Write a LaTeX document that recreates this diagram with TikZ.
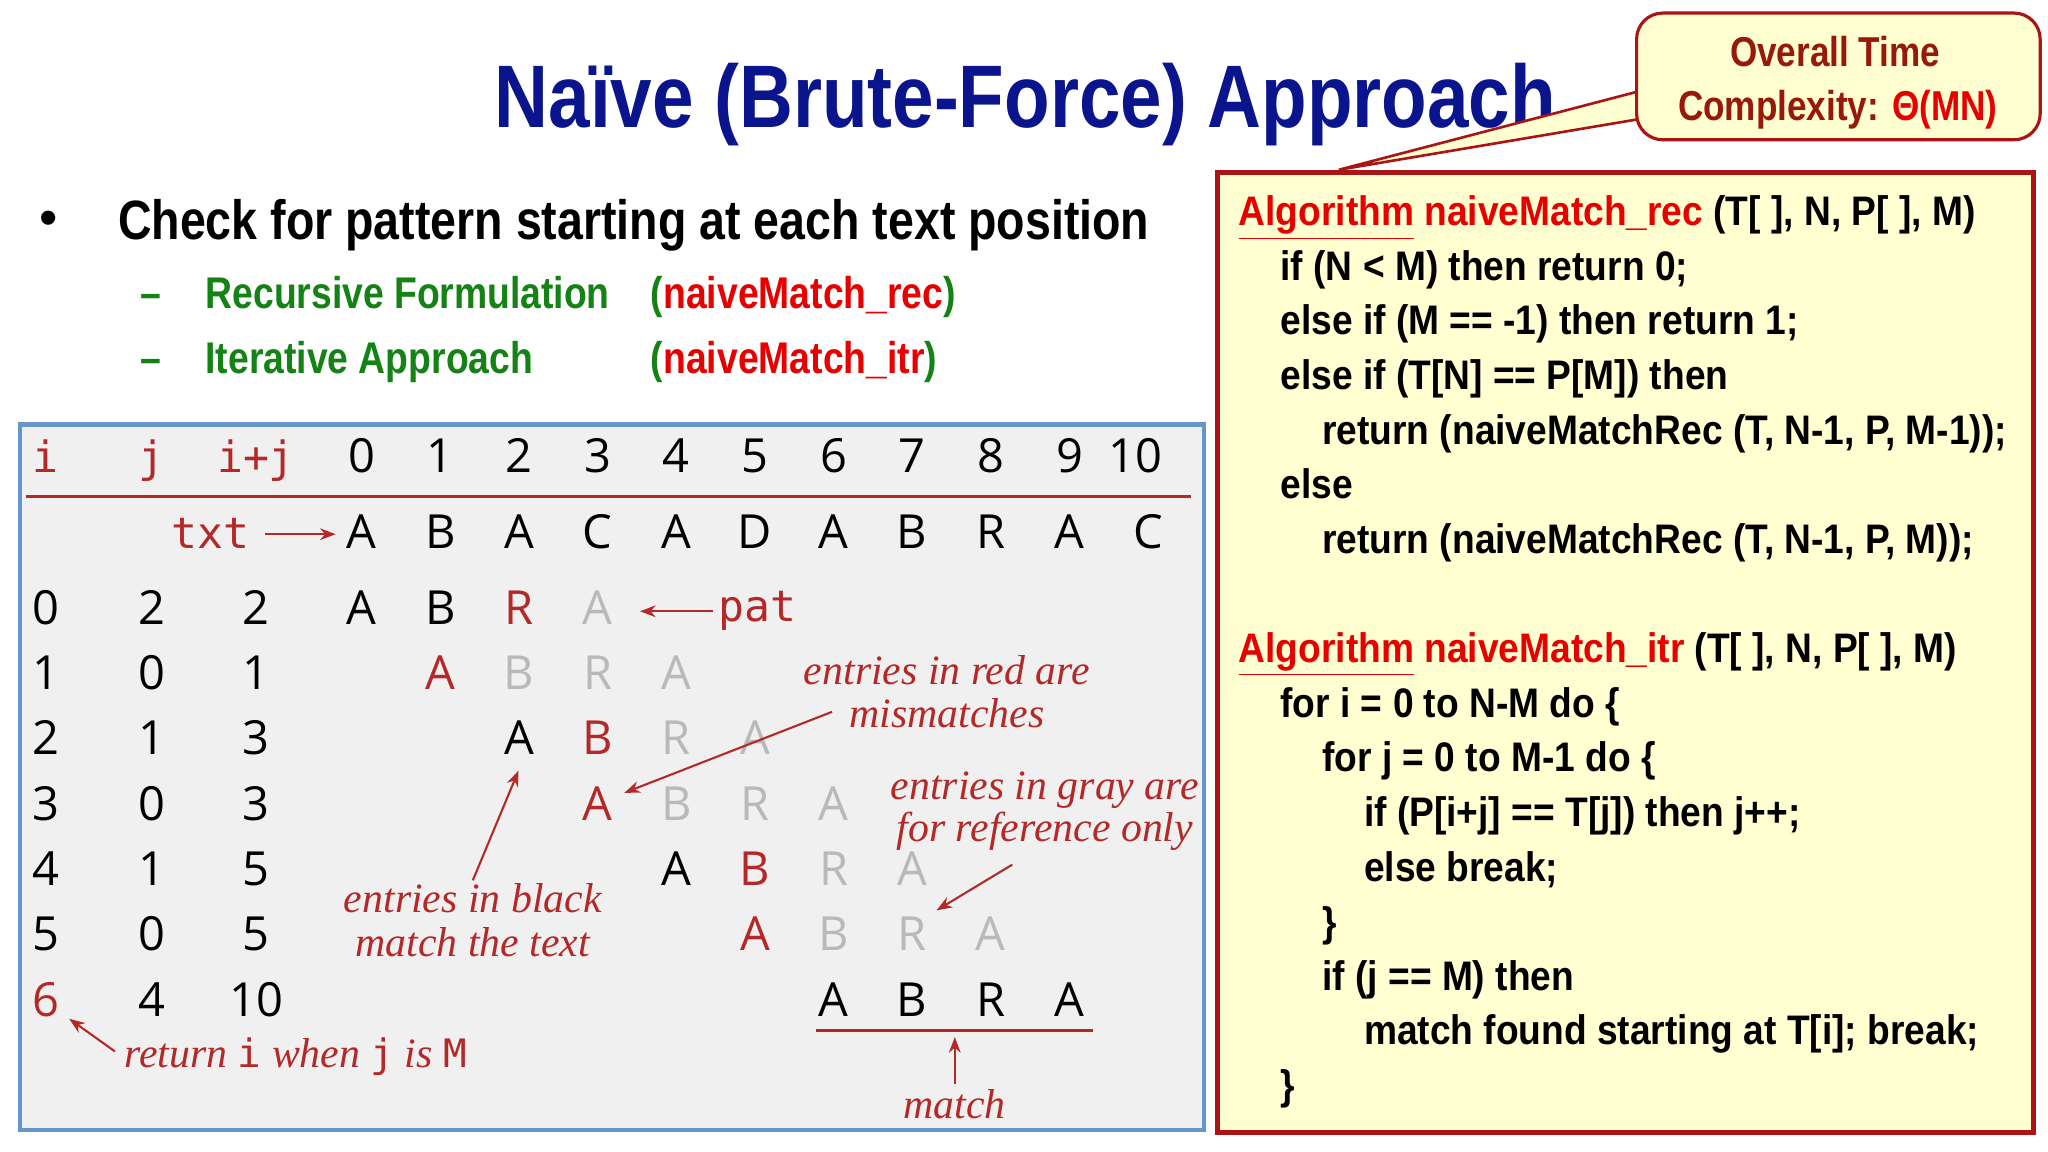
\documentclass[tikz,border=0pt]{standalone}
\usepackage{fontspec}
\setmainfont{Liberation Sans}
\newfontfamily\narrowb[FakeStretch=0.84]{Liberation Sans Bold}
\newfontfamily\codef[FakeStretch=0.9]{Liberation Sans Bold}
\newfontfamily\tabf{Open Sans}
\newfontfamily\tabm{DejaVu Sans Mono}
\newfontfamily\annf{Liberation Serif Italic}
\usetikzlibrary{arrows.meta}
\definecolor{dblue}{RGB}{10,20,140}
\definecolor{dred}{RGB}{170,20,20}
\definecolor{bred}{RGB}{230,0,0}
\definecolor{tred}{RGB}{180,40,40}
\definecolor{dgreen}{RGB}{20,130,20}
\definecolor{yel}{RGB}{255,255,210}
\definecolor{bbox}{RGB}{100,150,205}
\definecolor{gry}{RGB}{185,185,185}
\definecolor{brownr}{RGB}{150,25,10}
\tikzset{
 code/.style={anchor=base west,inner sep=0pt,font=\codef\fontsize{15.8}{18}\selectfont},
 cell/.style={anchor=base,inner sep=0pt,font=\tabf\fontsize{18}{20}\selectfont},
 mono/.style={anchor=base,inner sep=0pt,font=\tabm\fontsize{16.5}{18}\selectfont},
 ann/.style={anchor=base,inner sep=0pt,text=tred,font=\annf\fontsize{16}{18}\selectfont},
 green/.style={anchor=base west,inner sep=0pt,text=dgreen,font=\narrowb\fontsize{17}{19}\selectfont},
 rarr/.style={draw=tred,line width=0.8pt,-{Stealth[length=6pt,width=4.5pt]}},
}
\begin{document}
\begin{tikzpicture}[x=0.5pt,y=-0.5pt]
\useasboundingbox (0,0) rectangle (1568,882);
\fill[white] (0,0) rectangle (1568,882);
% title
\node[anchor=base,inner sep=0pt,text=dblue,font=\narrowb\fontsize{34}{38}\selectfont] (title) at (785,98) {Naïve (Brute-Force) Approach};
% callout
\coordinate (tip) at (1025,130);
\fill[yel,draw=dred,line width=1pt] (tip) -- (1262,68) -- (1262,90) -- cycle;
\draw[fill=yel,draw=dred,line width=1.2pt,rounded corners=10pt] (1253,10) rectangle (1562,107);
\fill[yel] (1256,70) -- (1256,88) -- (1270,88) -- (1270,70) -- cycle;
\node[anchor=base,inner sep=0pt,text=brownr,font=\narrowb\fontsize{16}{18}\selectfont] (ov1) at (1405,51) {Overall Time};
\node[anchor=base,inner sep=0pt,text=brownr,font=\narrowb\fontsize{16}{18}\selectfont] (ov2) at (1407,92) {Complexity: \textcolor{bred}{Θ(MN)}};
% bullets
\node[anchor=base west,inner sep=0pt,font=\fontsize{20}{22}\selectfont] (bul) at (30,180) {•};
\node[anchor=base west,inner sep=0pt,font=\narrowb\fontsize{21.2}{23}\selectfont] (b1) at (90,183) {Check for pattern starting at each text position};
\node[green] (d1) at (107,236) {–};
\node[green] (s1) at (157,236) {Recursive Formulation};
\node[green] (p1) at (498,236) {(\textcolor{bred}{naiveMatch\_rec})};
\node[green] (d2) at (107,286) {–};
\node[green] (s2) at (157,286) {Iterative Approach};
\node[green] (p2) at (498,286) {(\textcolor{bred}{naiveMatch\_itr})};
% left box
\draw[fill=black!6,draw=bbox,line width=1.6pt] (15,325) rectangle (922,865);
\foreach \t/\x [count=\k] in {i/35,j/116,i+j/196}
  \node[mono,text=tred] (h\k) at (\x,362) {\t};
\foreach \k in {0,...,9}
  \node[cell] (n\k) at ({277+60.2*\k},362) {\k};
\node[cell] (n10) at (869,362) {10};
\draw[tred,line width=1pt] (20,380) -- (912,380);
\node[mono,text=tred] (txt) at (161,420) {txt};
\foreach \l [count=\k from 0] in {A,B,A,C,A,D,A,B,R,A,C}
  \node[cell] (t\k) at ({277+60.2*\k},420) {\l};
\coordinate (txs) at (203,409);
\coordinate (txa) at (257,409);
\draw[rarr] (txs) -- (txa);
% rows index
\foreach \a/\b/\s/\ic [count=\r from 0] in {0/2/2/black,1/0/1/black,2/1/3/black,3/0/3/black,4/1/5/black,5/0/5/black,6/4/10/tred}{
  \pgfmathsetmacro\yy{478+50*\r}
  \node[cell,text=\ic] (ri\r) at (35,\yy) {\a};
  \node[cell] (rj\r) at (116,\yy) {\b};
  \node[cell] (rs\r) at (196,\yy) {\s};
}
\foreach \r/\c/\l/\col [count=\n] in {
0/0/A/black,0/1/B/black,0/2/R/tred,0/3/A/gry,
1/1/A/tred,1/2/B/gry,1/3/R/gry,1/4/A/gry,
2/2/A/black,2/3/B/tred,2/4/R/gry,2/5/A/gry,
3/3/A/tred,3/4/B/gry,3/5/R/gry,3/6/A/gry,
4/4/A/black,4/5/B/tred,4/6/R/gry,4/7/A/gry,
5/5/A/tred,5/6/B/gry,5/7/R/gry,5/8/A/gry,
6/6/A/black,6/7/B/black,6/8/R/black,6/9/A/black}
  \node[cell,text=\col] (pc\n) at ({277+60.2*\c},{478+50*\r}) {\l};
% pat
\node[mono,text=tred] (pat) at (580,476) {pat};
\coordinate (pats) at (546,468);
\coordinate (pata) at (490,468);
\draw[rarr] (pats) -- (pata);
% annotations
\node[ann] (a1) at (725,524) {entries in red are};
\node[ann] (a2) at (725,557) {mismatches};
\coordinate (a1s) at (637,545);
\coordinate (a1t) at (478,607);
\draw[rarr] (a1s) -- (a1t);
\node[ann] (a3) at (800,612) {entries in gray are};
\node[ann] (a4) at (800,644) {for reference only};
\coordinate (a3s) at (775,662);
\coordinate (a3t) at (717,697);
\draw[rarr] (a3s) -- (a3t);
\node[ann] (a5) at (362,699) {entries in black};
\node[ann] (a6) at (362,732) {match the text};
\coordinate (a5s) at (362,674);
\coordinate (a5t) at (397,590);
\draw[rarr] (a5s) -- (a5t);
\node[ann,anchor=base west] (a7) at (95,817) {return {\tabm\fontsize{15}{18}\selectfont i} when {\tabm\fontsize{15}{18}\selectfont j} is {\tabm\fontsize{15}{18}\selectfont M}};
\coordinate (a7s) at (88,805);
\coordinate (a7t) at (53,780);
\draw[rarr] (a7s) -- (a7t);
\draw[tred,line width=1pt] (625,789) -- (837,789);
\node[ann] (m) at (731,856) {match};
\coordinate (ms) at (731,830);
\coordinate (mt) at (731,794);
\draw[rarr] (ms) -- (mt);
% right box
\draw[fill=yel,draw=dred,line width=2pt] (932,132) rectangle (1557,867);
\node[code] (c1) at (948,173) {\textcolor{bred}{\underline{Algorithm}} \textcolor{bred}{naiveMatch\_rec} (T[ ], N, P[ ], M)};
\node[code] (c2) at (980,215) {if (N < M) then return 0;};
\node[code] (c3) at (980,256) {else if (M == -1) then return 1;};
\node[code] (c4) at (980,298) {else if (T[N] == P[M]) then};
\node[code] (c5) at (1012,340) {return (naiveMatchRec (T, N-1, P, M-1));};
\node[code] (c6) at (980,382) {else};
\node[code] (c7) at (1012,424) {return (naiveMatchRec (T, N-1, P, M));};
\node[code] (c8) at (948,507) {\textcolor{bred}{\underline{Algorithm}} \textcolor{bred}{naiveMatch\_itr} (T[ ], N, P[ ], M)};
\node[code] (c9) at (980,549) {for i = 0 to N-M do \{};
\node[code] (c10) at (1012,591) {for j = 0 to M-1 do \{};
\node[code] (c11) at (1044,633) {if (P[i+j] == T[j]) then j++;};
\node[code] (c12) at (1044,675) {else break;};
\node[code] (c13) at (1012,717) {\}};
\node[code] (c14) at (1012,758) {if (j == M) then};
\node[code] (c15) at (1044,800) {match found starting at T[i]; break;};
\node[code] (c16) at (980,842) {\}};
\end{tikzpicture}
\end{document}
